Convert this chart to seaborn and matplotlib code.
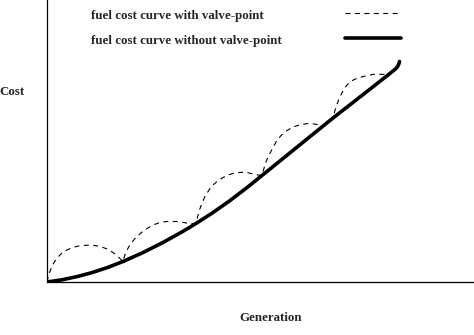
import matplotlib
matplotlib.use("Agg")
import matplotlib.pyplot as plt
from matplotlib.lines import Line2D
import seaborn as sns
import pandas as pd

# Curve without valve-point effect (arbitrary units)
gen_smooth = [0, 15, 30, 45, 60, 76, 95, 115, 135, 149, 165, 182, 200, 215, 235,
              255, 275, 286, 295, 315, 333, 341, 347, 349.5, 351, 352, 352.5]
cost_smooth = [0, 2.2, 5.4, 9.4, 14.3, 20.5, 29, 39, 50.1, 58.5, 68.8, 80.7, 94.4, 106.5, 122.7,
               138.9, 155.1, 164, 171, 186.6, 200.7, 207, 211.8, 214, 216.3, 218.5, 220.5]

# Curve with valve-point effect
gen_valve = [0, 1, 2.5, 4.5, 7, 10, 14, 19, 25, 33, 43, 53, 60, 66, 71, 76,
             77.5, 79.5, 82, 85, 89, 94.5, 100, 106, 113, 119.7, 129.7, 135, 139.7, 144, 149,
             150.5, 152.5, 155, 158, 162, 166, 170, 176, 182, 188, 194.7, 201, 206.3, 211, 215,
             216.5, 218.5, 221, 224.7, 229, 234, 240, 246, 254, 263, 271, 276,
             286, 287.5, 289.7, 292, 294.7, 297, 300, 303, 306.3, 311, 316.3, 326.3, 336.3, 341.3]
cost_valve = [0, 4.5, 9.5, 14.5, 19.5, 24, 28, 31.5, 34.3, 36.3, 37, 35.8, 33, 29.5, 25.3, 20.5,
              26, 31, 35.5, 40, 44.5, 49.5, 53.5, 57, 59.5, 60.5, 60.5, 59.8, 58.9, 58.5, 58.5,
              65, 72, 79, 85.5, 92, 97, 100.5, 104.5, 107.3, 109, 109.7, 109.2, 108, 107, 106.5,
              112, 119, 125, 132, 140, 146.5, 151.5, 155, 157.5, 158.7, 157.3, 156,
              164, 170, 177, 183, 188.7, 193, 197, 200, 202, 204, 205.5, 207.7, 207.7, 207]

labels = ["fuel cost curve with valve-point", "fuel cost curve without valve-point"]
x_label = "Generation"
y_label = "Cost"

sns.set_style("white")
plt.rcParams["font.family"] = ["Liberation Serif", "DejaVu Serif"]

fig = plt.figure(figsize=(4.74, 3.35), dpi=100)
ax = fig.add_axes([47 / 474, 53 / 335, 427 / 474, 282 / 335])

df_s = pd.DataFrame({"g": gen_smooth, "c": cost_smooth})
df_v = pd.DataFrame({"g": gen_valve, "c": cost_valve})

sns.lineplot(data=df_v, x="g", y="c", ax=ax, color="black", linewidth=0.8,
             linestyle=(0, (4.5, 4)), estimator=None, sort=False)
sns.lineplot(data=df_s, x="g", y="c", ax=ax, color="black", linewidth=2.6,
             estimator=None, sort=False, solid_capstyle="round", solid_joinstyle="round")

ax.set_xlim(0, 427)
ax.set_ylim(0, 282)
ax.set_xticks([])
ax.set_yticks([])
sns.despine(ax=ax)
for s in ("left", "bottom"):
    ax.spines[s].set_color("black")
    ax.spines[s].set_linewidth(0.9)

fs = 9.3
ax.set_xlabel(x_label, fontsize=fs, fontweight="bold")
ax.set_ylabel(y_label, fontsize=fs, fontweight="bold", rotation=0, ha="center", va="center")
ax.xaxis.set_label_coords((271 - 47) / 427, (282 - 312) / 282)
ax.yaxis.set_label_coords((12 - 47) / 427, (282 - 92) / 282)

# legend labels (left) and handles (right)
fig.text(91 / 474, 1 - 19 / 335, labels[0], fontsize=fs, fontweight="bold", va="baseline")
fig.text(91 / 474, 1 - 44.3 / 335, labels[1], fontsize=fs, fontweight="bold", va="baseline")

handles = [Line2D([], [], color="black", linewidth=0.8, linestyle=(0, (4.5, 4))),
           Line2D([], [], color="black", linewidth=2.6)]
leg = fig.legend(handles, ["", ""], loc="upper left",
                 bbox_to_anchor=(345 / 474, 1 - 8 / 335), frameon=False,
                 fontsize=9, handlelength=4.5, handletextpad=0, borderpad=0,
                 borderaxespad=0, labelspacing=1.09)

fig.savefig("out.png", dpi=100)
